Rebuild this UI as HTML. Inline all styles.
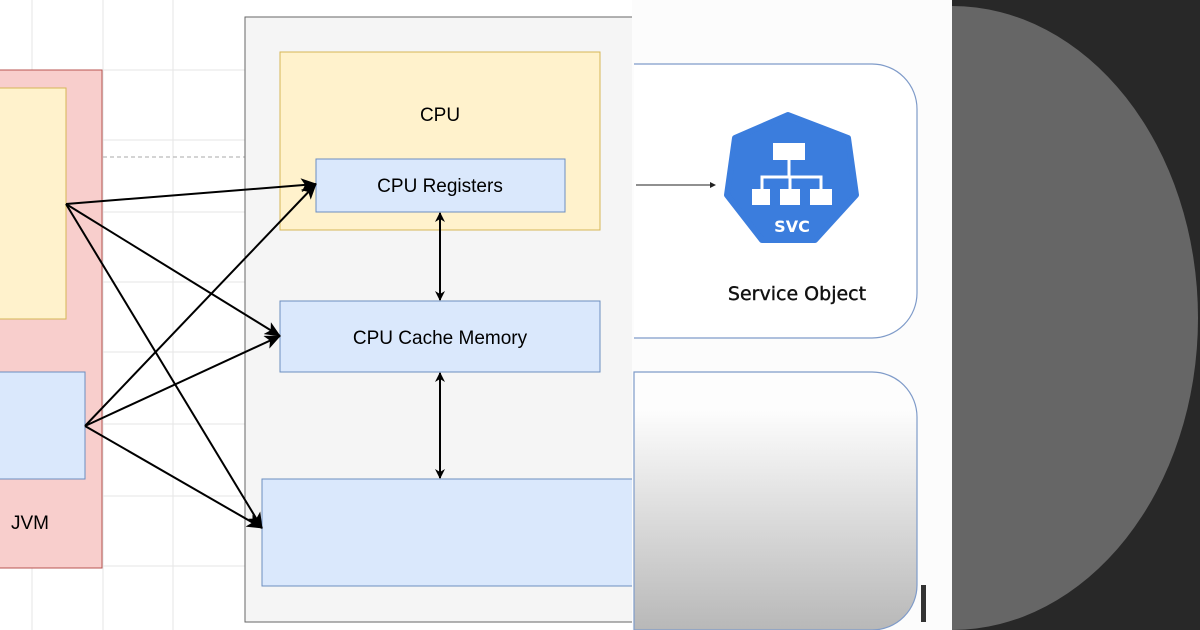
<!DOCTYPE html>
<html><head><meta charset="utf-8"><style>
body{margin:0;width:1200px;height:630px;overflow:hidden;background:#fff;font-family:"Liberation Sans",sans-serif}
</style></head><body>
<svg width="1200" height="630" xmlns="http://www.w3.org/2000/svg" style="position:absolute;left:0;top:0">
<defs>
<marker id="a" markerWidth="16" markerHeight="14" refX="15" refY="7" orient="auto" markerUnits="userSpaceOnUse"><path d="M0,0 L16,7 L0,14 L4,7 z" fill="#000"/></marker>
<marker id="c" markerWidth="10" markerHeight="10" refX="9" refY="5" orient="auto" markerUnits="userSpaceOnUse"><path d="M0,0 L10,5 L0,10 L3,5 z" fill="#000"/></marker>
<marker id="b" markerWidth="10" markerHeight="10" refX="1" refY="5" orient="auto" markerUnits="userSpaceOnUse"><path d="M10,0 L0,5 L10,10 L7,5 z" fill="#000"/></marker>
<linearGradient id="g" x1="0" y1="0" x2="0" y2="1"><stop offset="0.15" stop-color="#fdfdfd"/><stop offset="1" stop-color="#b8b8b8"/></linearGradient>
<clipPath id="cp"><rect x="952" y="0" width="248" height="630"/></clipPath>
</defs>
<rect width="634" height="630" fill="#fff"/>
<g stroke="#e6e6e6" stroke-width="1">
<line x1="32" y1="0" x2="32" y2="630"/><line x1="103" y1="0" x2="103" y2="630"/><line x1="173" y1="0" x2="173" y2="630"/>
<line x1="0" y1="70" x2="245" y2="70"/><line x1="0" y1="140" x2="245" y2="140"/><line x1="0" y1="212" x2="245" y2="212"/><line x1="0" y1="282" x2="245" y2="282"/><line x1="0" y1="352" x2="245" y2="352"/><line x1="0" y1="424" x2="245" y2="424"/><line x1="0" y1="496" x2="245" y2="496"/><line x1="0" y1="566" x2="245" y2="566"/>
</g>
<line x1="103" y1="157" x2="245" y2="157" stroke="#aaa" stroke-dasharray="4,3"/>
<rect x="-2" y="70" width="104" height="498" fill="#f8cecc" stroke="#b85450"/>
<rect x="-2" y="88" width="68" height="231" fill="#fff2cc" stroke="#d6b656"/>
<rect x="-2" y="372" width="87" height="107" fill="#dae8fc" stroke="#6c8ebf"/>
<text x="30" y="529" font-size="19" text-anchor="middle">JVM</text>
<rect x="245" y="17" width="400" height="605" fill="#f5f5f5" stroke="#666"/>
<rect x="280" y="52" width="320" height="178" fill="#fff2cc" stroke="#d6b656"/>
<text x="440" y="121" font-size="19" text-anchor="middle">CPU</text>
<rect x="316" y="159" width="249" height="53" fill="#dae8fc" stroke="#6c8ebf"/>
<text x="440" y="192" font-size="19" text-anchor="middle">CPU Registers</text>
<rect x="280" y="301" width="320" height="71" fill="#dae8fc" stroke="#6c8ebf"/>
<text x="440" y="344" font-size="19" text-anchor="middle">CPU Cache Memory</text>
<rect x="262" y="479" width="380" height="107" fill="#dae8fc" stroke="#6c8ebf"/>
<g stroke="#000" stroke-width="2" fill="none">
<line x1="66" y1="204" x2="316" y2="184" marker-end="url(#a)"/>
<line x1="66" y1="204" x2="280" y2="336" marker-end="url(#a)"/>
<line x1="66" y1="204" x2="262" y2="528" marker-end="url(#a)"/>
<line x1="85" y1="426" x2="316" y2="184" marker-end="url(#a)"/>
<line x1="85" y1="426" x2="280" y2="336" marker-end="url(#a)"/>
<line x1="85" y1="426" x2="262" y2="528" marker-end="url(#a)"/>
<line x1="440" y1="213" x2="440" y2="300" marker-end="url(#c)" marker-start="url(#b)"/>
<line x1="440" y1="373" x2="440" y2="478" marker-end="url(#c)" marker-start="url(#b)"/>
</g>
<rect x="632" y="0" width="320" height="630" fill="#fcfcfc"/>
<path d="M634,64 H872 A45,45 0 0 1 917,109 V293 A45,45 0 0 1 872,338 H634" fill="#fff" stroke="#7f9bc9" stroke-width="1.2"/>
<path d="M634,372 H872 A45,45 0 0 1 917,417 V585 A45,45 0 0 1 872,630 H634 Z" fill="url(#g)" stroke="#7f9bc9" stroke-width="1.2"/>
<rect x="921" y="585" width="5" height="37" fill="#333"/>
<line x1="636" y1="185" x2="710" y2="185" stroke="#222" stroke-width="1"/>
<path d="M710,182 L716,185 L710,188 z" fill="#222"/>
<polygon points="788,115 848,138 856,195 815,240 762,240 727,195 735,138" fill="#3b7ddd" stroke="#3b7ddd" stroke-width="6" stroke-linejoin="round"/>
<g fill="#fff"><rect x="773" y="143" width="32" height="17"/><rect x="752" y="189" width="18" height="16"/><rect x="780" y="189" width="20" height="16"/><rect x="810" y="189" width="22" height="16"/></g>
<g stroke="#fff" stroke-width="3" fill="none"><path d="M789,160 V177 M762,189 V177 H821 V189 M790,177 V189"/></g>
<text x="792" y="232" font-size="16" font-weight="bold" fill="#fff" text-anchor="middle" font-family="DejaVu Sans">SVC</text>
<text x="797" y="300" font-size="19" text-anchor="middle" font-family="DejaVu Sans" fill="#111" stroke="#111" stroke-width="0.4">Service Object</text>
<rect x="952" y="0" width="248" height="630" fill="#282828"/>
<ellipse cx="952" cy="318" rx="246" ry="312" fill="#666" clip-path="url(#cp)"/>
</svg>
</body></html>
